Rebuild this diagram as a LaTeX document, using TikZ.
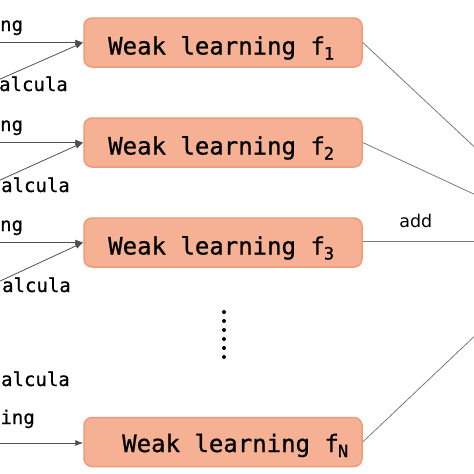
\documentclass[tikz,border=0pt]{standalone}
\usepackage{fontspec}
\usetikzlibrary{arrows.meta}
\newfontfamily\boxfont[FakeBold=0.8]{DejaVu Sans Mono}
\newfontfamily\sidefont[FakeBold=0.5]{DejaVu Sans Mono}
\newfontfamily\lblfont{DejaVu Sans}
\definecolor{boxfill}{HTML}{F6B093}
\definecolor{boxedge}{HTML}{F09C7A}
\definecolor{arrowgray}{HTML}{505050}
\definecolor{linegray}{HTML}{7A7A7A}
\tikzset{
  learnbox/.style={draw=boxedge, line width=1.5pt, fill=boxfill, rounded corners=8pt,
    minimum width=278pt, minimum height=49pt, inner sep=0pt},
  boxtext/.style={font=\boxfont\fontsize{24}{24}\selectfont, text=black, inner sep=0pt, anchor=base west},
  sidetext/.style={font=\sidefont\fontsize{19}{19}\selectfont, text=black, inner sep=0pt},
  inarrow/.style={draw=arrowgray, line width=0.8pt, -{Latex[length=8pt,width=6pt]}},
  outline/.style={draw=linegray, line width=0.8pt},
  dotmark/.style={circle, fill=black, inner sep=0pt, minimum size=4pt}
}
\newcommand{\sbs}[1]{\kern-1pt\raisebox{-5pt}{\fontsize{17}{17}\selectfont #1}}
\begin{document}
\begin{tikzpicture}[x=1pt,y=-1pt]
\useasboundingbox (0,0) rectangle (474,474);
\clip (0,0) rectangle (474,474);
% boxes
\node[learnbox] (b1) at (223,42.5) {};
\node[learnbox] (b2) at (223,142.5) {};
\node[learnbox] (b3) at (223,242.5) {};
\node[learnbox] (bN) at (223,442) {};
\node[boxtext] (l1) at (108,54.5) {Weak learning f\sbs{1}};
\node[boxtext] (l2) at (108,154.5) {Weak learning f\sbs{2}};
\node[boxtext] (l3) at (108,254.5) {Weak learning f\sbs{3}};
\node[boxtext] (lN) at (122,452) {Weak learning f\sbs{N}};
% left texts
\node[sidetext, anchor=base west] (t1a) at (0,31) {ng};
\node[sidetext, anchor=base east] (t1b) at (68,91) {alcula};
\node[sidetext, anchor=base west] (t2a) at (0,131) {ng};
\node[sidetext, anchor=base east] (t2b) at (70,192) {alcula};
\node[sidetext, anchor=base west] (t3a) at (0,231) {ng};
\node[sidetext, anchor=base east] (t3b) at (71,292) {alcula};
\node[sidetext, anchor=base east] (tNb) at (70,386) {alcula};
\node[sidetext, anchor=base east] (tNa) at (35,424) {ing};
% left free ends
\coordinate (h1) at (-2,42.5);
\coordinate (d1) at (-2,80);
\coordinate (h2) at (-2,142.5);
\coordinate (d2) at (-2,181);
\coordinate (h3) at (-2,242.5);
\coordinate (d3) at (-2,282);
\coordinate (hN) at (-2,443);
\draw[inarrow] (h1) -- (b1.west);
\draw[inarrow] (d1) -- (b1.west);
\draw[inarrow] (h2) -- (b2.west);
\draw[inarrow] (d2) -- (b2.west);
\draw[inarrow] (h3) -- (b3.west);
\draw[inarrow] (d3) -- (b3.west);
\draw[inarrow] (hN) -- (bN.west |- hN);
% right converging lines
\coordinate (conv) at (575,241);
\draw[outline] (b1.east) -- (conv);
\draw[outline] (b2.east) -- (conv);
\draw[outline] (b3.east |- conv) -- node[pos=0.25, anchor=base, yshift=14pt, font=\lblfont\fontsize{17.5}{17.5}\selectfont, inner sep=0pt] (addl) {add} (conv);
\draw[outline] (bN.east) -- (conv);
% vertical dots
\foreach \i in {0,...,5} {
  \node[dotmark] (dot\i) at (224,312+9*\i) {};
}
\end{tikzpicture}
\end{document}
